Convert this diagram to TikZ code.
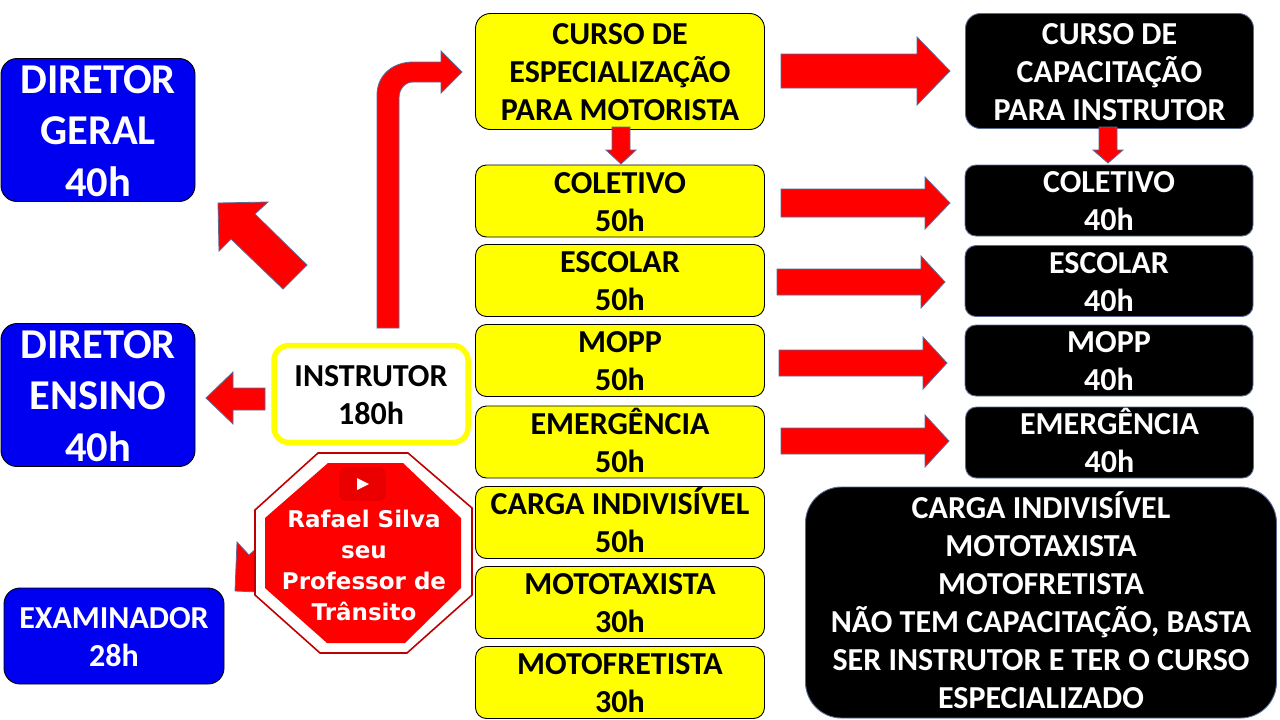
\documentclass[tikz,border=0pt]{standalone}
\usepackage{fontspec}
\setmainfont{Carlito}
\newfontfamily\comic{DejaVu Sans}
\definecolor{edge}{HTML}{5B6B98}
\definecolor{bluebox}{HTML}{0000F0}
\definecolor{ybox}{HTML}{FFFF00}
\newcommand{\tp}{\rule{0pt}{.94em}}
\newcommand{\bt}[1][.25em]{\rule[-#1]{0pt}{#1}}
\tikzset{
 box/.style={draw=#1,rounded corners=13pt,line width=0.9pt,align=center,font=\bfseries\fontsize{32}{38}\selectfont,inner xsep=0pt,inner ysep=-10pt},
 yel/.style={box=black,fill=ybox,text=black,minimum width=289pt,minimum height=72pt,rounded corners=11pt},
 blk/.style={box=edge,fill=black,text=white,minimum width=288pt,minimum height=71pt,rounded corners=11pt},
 blu/.style={box=black,fill=bluebox,text=white,rounded corners=16pt},
 redarrow/.style={fill=red,draw=edge,line width=0.8pt,line join=miter}
}
\newcommand{\rarrow}[6]{\draw[redarrow] (#1,#4-#5) -- (#2,#4-#5) -- (#2,#4-#6) -- (#3,#4) -- (#2,#4+#6) -- (#2,#4+#5) -- (#1,#4+#5) -- cycle;}
\newcommand{\darrow}[6]{\draw[redarrow] (#1-#5,#2) -- (#1-#5,#3) -- (#1-#6,#3) -- (#1,#4) -- (#1+#6,#3) -- (#1+#5,#3) -- (#1+#5,#2) -- cycle;}
\begin{document}
\begin{tikzpicture}[x=1pt,y=-1pt]
\useasboundingbox[fill=white] (0,0) rectangle (1280,720);
\node[blu,minimum width=194pt,minimum height=143pt,font=\bfseries\fontsize{42.5}{51.5}\selectfont] (dg) at (98,130) {\tp DIRETOR\\GERAL\\40h\bt};
\node[blu,minimum width=194pt,minimum height=143pt,font=\bfseries\fontsize{42.5}{51.5}\selectfont] (de) at (98,395) {\tp DIRETOR\\ENSINO\\40h\bt};
\node[blu,minimum width=220pt,minimum height=96pt] (ex) at (114,636) {\tp EXAMINADOR\\28h\bt};
\node[draw=ybox,line width=5.5pt,rounded corners=15pt,fill=white,minimum width=194pt,minimum height=97pt,align=center,font=\bfseries\fontsize{32}{38}\selectfont] (ins) at (371,394) {\tp INSTRUTOR\\180h\bt};
\node[yel,minimum height=116pt,rounded corners=15pt] (c0) at (620,71.5) {\tp CURSO DE\\ESPECIALIZAÇÃO\\PARA MOTORISTA\bt};
\node[yel] (c1) at (620,201) {\tp COLETIVO\\50h\bt};
\node[yel] (c2) at (620,280.5) {\tp ESCOLAR\\50h\bt};
\node[yel] (c3) at (620,360.5) {\tp MOPP\\50h\bt};
\node[yel] (c4) at (620,442) {\tp EMERGÊNCIA\\50h\bt};
\node[yel] (c5) at (620,522.5) {\tp CARGA INDIVISÍVEL\\50h\bt};
\node[yel] (c6) at (620,602.5) {\tp MOTOTAXISTA\\30h\bt};
\node[yel] (c7) at (620,682.5) {\tp MOTOFRETISTA\\30h\bt};
\node[blk,minimum height=115pt,rounded corners=15pt] (k0) at (1109.5,71) {\tp CURSO DE\\CAPACITAÇÃO\\PARA INSTRUTOR\bt};
\node[blk] (k1) at (1109,200.5) {\tp COLETIVO\\40h\bt};
\node[blk] (k2) at (1109,281) {\tp ESCOLAR\\40h\bt};
\node[blk] (k3) at (1109,360.5) {\tp MOPP\\40h\bt};
\node[blk] (k4) at (1109.5,442.5) {\tp EMERGÊNCIA\\40h\bt};
\node[box=edge,fill=black,text=white,minimum width=471pt,minimum height=231pt,rounded corners=36pt] (k5) at (1041,602.5) {\tp CARGA INDIVISÍVEL\\MOTOTAXISTA\\MOTOFRETISTA\\NÃO TEM CAPACITAÇÃO, BASTA\\SER INSTRUTOR E TER O CURSO\\ESPECIALIZADO\bt[.27em]};
\rarrow{781}{917}{950}{71}{17}{34}
\rarrow{781}{925}{950}{203}{14}{26}
\rarrow{777}{921}{945}{282}{13}{26}
\rarrow{779}{923}{947}{363}{13}{26}
\rarrow{781}{925}{949}{441}{13}{26}
\darrow{621}{127}{150}{164}{9}{15}
\darrow{1108}{127}{150}{163}{9}{15}
\draw[redarrow] (265,388) -- (233,388) -- (233,372) -- (206,398) -- (233,424) -- (233,410) -- (265,410) -- cycle;
\draw[redarrow] (307,265) -- (255,214) -- (268,202) -- (218,203) -- (219,251) -- (231,239) -- (283,289) -- cycle;
\draw[redarrow] (377,328) -- (377,95) .. controls (377,75) and (393,62) .. (413,62) -- (441,62) -- (441,51) -- (462,72) -- (441,93) -- (441,82) -- (413,82) .. controls (405,82) and (399,89) .. (399,98) -- (399,328) -- cycle;
\draw[redarrow] (235,591) -- (237,542) -- (249,555) -- (258,547) -- (258,592) -- cycle;
\draw[fill=white,draw=red!75!black,line width=1.6pt] (318,453) -- (408,453) -- (472,508) -- (472,595) -- (407,653) -- (320,653) -- (255,595) -- (255,510) -- cycle;
\fill[red] (328,463) -- (403,463) -- (461,518) -- (461,588) -- (405,643) -- (327,643) -- (265,588) -- (265,518) -- cycle;
\draw[red!85!black,fill=red!92!black,rounded corners=6pt,line width=0.8pt] (340,468) rectangle (385,500);
\fill[white] (357,478) -- (369,484) -- (357,490) -- cycle;
\node[text=white,align=center,font=\comic\bfseries\fontsize{23}{31}\selectfont,inner sep=0pt] (rs) at (364,565) {Rafael Silva\\seu\\Professor de\\Trânsito};
\end{tikzpicture}
\end{document}
